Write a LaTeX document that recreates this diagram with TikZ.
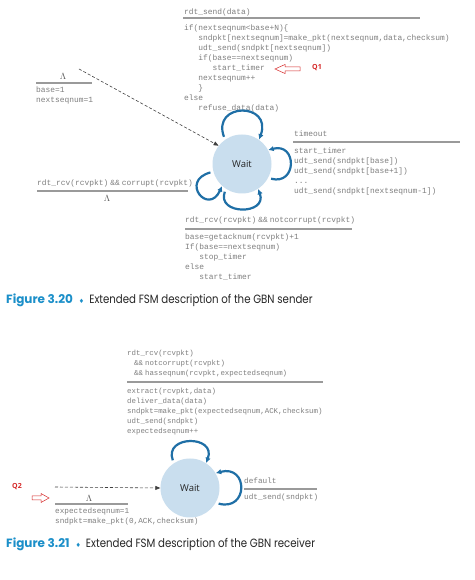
\documentclass[tikz,border=0pt]{standalone}
\usepackage{fontspec}
\setmainfont{Liberation Serif}
\setmonofont{Liberation Mono}
\newfontfamily\waitfont{Open Sans}
\newfontfamily\capfont[FakeStretch=0.85]{Poppins}
\newfontfamily\capboldfont{Poppins}
\newfontfamily\symfont{DejaVu Sans}
\usetikzlibrary{arrows.meta}
\definecolor{codegray}{HTML}{7F7F7F}
\definecolor{rulegray}{HTML}{9A9A9A}
\definecolor{statefill}{HTML}{C9DEEE}
\definecolor{loopblue}{HTML}{1F6FA6}
\definecolor{capblue}{HTML}{1B8FC9}
\definecolor{markred}{HTML}{D62828}
\newcommand{\codeind}{\hphantom{xxx}}
\newcommand{\nsp}{\hspace{2pt}}
\tikzset{
    code/.style={font=\ttfamily\fontsize{7.9}{10}\selectfont, text=codegray, align=left, inner sep=0pt, anchor=north west},
    smallcode/.style={code, font=\ttfamily\fontsize{7.4}{10}\selectfont},
    midcode/.style={code, font=\ttfamily\fontsize{7.7}{10}\selectfont},
    lam/.style={font=\fontsize{9}{9}\selectfont, text=black!65, inner sep=0pt},
    rule/.style={draw=rulegray, line width=1.3pt},
    state/.style={circle, fill=statefill, minimum size=59pt, inner sep=0pt, font=\waitfont\fontsize{9.5}{11}\selectfont, text=black!85},
    selfloop/.style={-{Latex[length=5.5pt,width=5.5pt]}, draw=loopblue, line width=2.2pt, shorten <=3pt},
    initarrow/.style={-{Triangle[length=5pt,width=4pt]}, draw=black!75, line width=0.6pt, dash pattern=on 3pt off 2pt},
    qmark/.style={font=\waitfont\bfseries\fontsize{7}{8}\selectfont, text=markred, inner sep=0pt, anchor=west},
    qarrow/.style={draw=markred, line width=0.5pt, fill=white},
    caption/.style={font=\capfont\fontsize{12}{14}\selectfont, text=black!85, anchor=west, inner sep=0pt}
}

\begin{document}
\begin{tikzpicture}[x=1pt, y=1pt]
    \fill[white] (0,0) rectangle (474,580);
    \useasboundingbox (0,0) rectangle (474,580);

    % GBN sender
    \node[state] (swait) at (242,416) {Wait};
    \node[code] (sendev) at (184,571) {rdt\_send(data)};
    \draw[rule] (183,562) -- (420,562);
    \node[code] (sendact) at (184,555) {if(nextseqnum<base+N)\{\\
        \codeind sndpkt[nextseqnum]=make\_pkt(nextseqnum,data,checksum)\\
        \codeind udt\_send(sndpkt[nextseqnum])\\
        \codeind if(base==nextseqnum)\\
        \codeind\codeind start\_timer\\
        \codeind nextseqnum++\\
        \codeind \}\\
        else\\
        \codeind refuse\_data(data)};
    \coordinate (q1tip) at (275,511);
    \draw[qarrow] (q1tip) -- ++(10,4.5) -- ++(0,-2.5) -- ++(15,0) -- ++(0,-4) -- ++(-15,0) -- ++(0,-2.5) -- cycle;
    \node[qmark] (q1) at (312,512) {Q1};

    \node[lam] (sinitlam) at (63,504) {$\Lambda$};
    \draw[rule] (36,497) -- (92,497);
    \node[code] (sinitact) at (36,493) {base=1\\nextseqnum=1};
    \coordinate (sinit) at (79,511);
    \draw[initarrow] (sinit) -- (swait.142);

    \node[code] (tmev) at (294,449) {timeout};
    \draw[rule] (293,438) -- (460,438);
    \node[code] (tmact) at (294,432) {start\_timer\\
        udt\_send(sndpkt[base])\\
        udt\_send(sndpkt[base+1])\\
        ...\\
        udt\_send(sndpkt[nextseqnum-1])};

    \node[code] (corev) at (37,400) {rdt\_rcv(rcvpkt)\nsp\&\&\nsp corrupt(rcvpkt)};
    \draw[rule] (37,389) -- (188,389);
    \node[lam] (corlam) at (107,382) {$\Lambda$};

    \node[code] (ackev) at (185,363) {rdt\_rcv(rcvpkt)\nsp\&\&\nsp notcorrupt(rcvpkt)};
    \draw[rule] (185,351) -- (352,351);
    \node[code] (ackact) at (185,346) {base=getacknum(rcvpkt)+1\\
        If(base==nextseqnum)\\
        \codeind stop\_timer\\
        else\\
        \codeind start\_timer};

    \draw[selfloop] (swait.125) .. controls +(110:40) and +(70:40) .. (swait.55);
    \draw[selfloop] (swait.-28) .. controls +(-15:30) and +(15:30) .. (swait.28);
    \draw[selfloop] (swait.-123) .. controls +(-110:28) and +(-70:28) .. (swait.-57);
    \draw[selfloop] (swait.195) .. controls +(195:35) and +(245:33) .. (swait.228);

    \node[caption] (cap20) at (6,280) {{\capboldfont\color{capblue}\bfseries Figure 3.20}\hspace{6pt}{\symfont\color{capblue}\fontsize{6}{6}\selectfont ♦}\hspace{5pt}Extended FSM description of the GBN sender};

    % GBN receiver
    \node[state] (rwait) at (190,92) {Wait};
    \node[smallcode] (rcvev) at (127,230) {rdt\_rcv(rcvpkt)\\
        \hspace*{7pt}\&\&\nsp notcorrupt(rcvpkt)\\
        \hspace*{7pt}\&\&\nsp hasseqnum(rcvpkt,expectedseqnum)};
    \draw[rule] (127,198) -- (323,198);
    \node[smallcode] (rcvact) at (127,192) {extract(rcvpkt,data)\\
        deliver\_data(data)\\
        sndpkt=make\_pkt(expectedseqnum,ACK,checksum)\\
        udt\_send(sndpkt)\\
        expectedseqnum++};

    \node[midcode] (defev) at (244,102) {default};
    \draw[rule] (244,91) -- (317,91);
    \node[midcode] (defact) at (244,86) {udt\_send(sndpkt)};

    \coordinate (rinit) at (55,93);
    \draw[initarrow] (rinit) -- (rwait.west);
    \node[lam] (rinitlam) at (89,82) {$\Lambda$};
    \draw[rule] (55,76) -- (128,76);
    \node[midcode] (rinitact) at (55,72) {expectedseqnum=1\\sndpkt=make\_pkt(0,ACK,checksum)};

    \node[qmark] (q2) at (12,93) {Q2};
    \coordinate (q2tip) at (49,82);
    \draw[qarrow] (q2tip) -- ++(-8,4.5) -- ++(0,-2.5) -- ++(-9,0) -- ++(0,-4) -- ++(9,0) -- ++(0,-2.5) -- cycle;

    \draw[selfloop] (rwait.123) .. controls +(110:30) and +(70:30) .. (rwait.57);
    \draw[selfloop] (rwait.-30) .. controls +(-15:34) and +(15:34) .. (rwait.30);

    \node[caption] (cap21) at (6,36) {{\capboldfont\color{capblue}\bfseries Figure 3.21}\hspace{6pt}{\symfont\color{capblue}\fontsize{6}{6}\selectfont ♦}\hspace{5pt}Extended FSM description of the GBN receiver};
\end{tikzpicture}
\end{document}
